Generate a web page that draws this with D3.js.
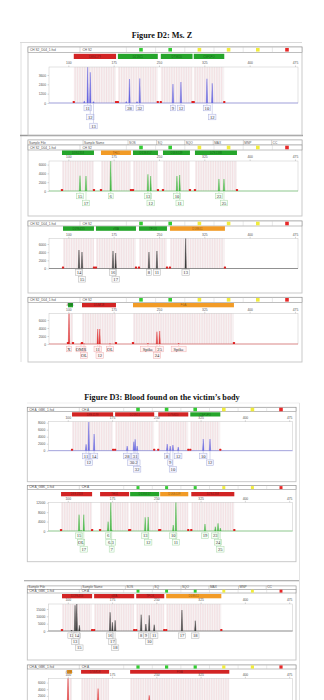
<!DOCTYPE html>
<html><head><meta charset="utf-8">
<script src="https://cdn.jsdelivr.net/npm/d3@7"></script>
<style>body{margin:0;background:#fff}svg{display:block}</style>
</head><body>
<svg id="c" width="324" height="700"></svg>
<script>
// ---------- shared ----------
const sizeTicks = [100, 175, 250, 325, 400, 475];
const sampleHeads = ["Sample File", "Sample Name", "SOS", "SQ", "SQO", "MAX", "MNP", "CC"];

// ---------- Figure D2: Ms. Z ----------
const d2Flags = ["pass", "pass", "check", "check", "check", "fail"];

const d2BlueLoci = [
  {name: "D8S1179", start: 109, end: 179, status: "fail"},
  {name: "D21S11", start: 182, end: 248, status: "pass"},
  {name: "D7S820", start: 253, end: 305.5, status: "pass"},
  {name: "CSF1PO", start: 307.5, end: 358, status: "pass"}
];
const d2BluePeaks = [
  {allele: null, size: 126.4, rfu: 260},
  {allele: "11", size: 132.0, rfu: 4600, row: 1},
  {allele: "12", size: 136.3, rfu: 3950, row: 2},
  {allele: "13", size: 141.6, rfu: 180, row: 3},
  {allele: null, size: 195.9, rfu: 200},
  {allele: "28", size: 201.2, rfu: 3085, row: 1},
  {allele: null, size: 213.6, rfu: 180},
  {allele: "32", size: 218.2, rfu: 3150, row: 1},
  {allele: "9", size: 273.1, rfu: 2440, row: 1},
  {allele: "12", size: 286.3, rfu: 2700, row: 1},
  {allele: "10", size: 329.3, rfu: 3120, row: 1},
  {allele: "12", size: 338.1, rfu: 2530, row: 2}
];
const d2BlueTicks = [0, 1200, 2400, 3600];

const d2GreenLoci = [
  {name: "D3S1358", start: 89.5, end: 142.4, status: "pass"},
  {name: "TH01", start: 154, end: 203.6, status: "check"},
  {name: "D13S317", start: 207, end: 248.3, status: "pass"},
  {name: "D16S539", start: 256.6, end: 301.2, status: "pass"},
  {name: "D2S1338", start: 309.5, end: 379, status: "pass"}
];
const d2GreenPeaks = [
  {allele: "15", size: 119.3, rfu: 3480, row: 1},
  {allele: "17", size: 129.2, rfu: 3410, row: 2},
  {allele: "6", size: 170.1, rfu: 6800, row: 1},
  {allele: "13", size: 231.7, rfu: 3800, row: 1},
  {allele: "12", size: 236.2, rfu: 3410, row: 2},
  {allele: "10", size: 279.7, rfu: 3410, row: 1},
  {allele: "11", size: 284.2, rfu: 3640, row: 2},
  {allele: "23", size: 349.2, rfu: 2730, row: 1},
  {allele: "25", size: 357.5, rfu: 2730, row: 2}
];
const d2GreenTicks = [0, 2000, 4000, 6000];

const d2BlackLoci = [
  {name: "D19S433", start: 91.2, end: 142.4, status: "pass"},
  {name: "vWA", start: 145.7, end: 211.9, status: "pass"},
  {name: "TPOX", start: 216.9, end: 263.2, status: "pass"},
  {name: "D18S51", start: 268.1, end: 359.1, status: "check"}
];
const d2BlackPeaks = [
  {allele: "14", size: 117.6, rfu: 4530, row: 1},
  {allele: "15", size: 122.6, rfu: 4040, row: 2},
  {allele: "16", size: 173.9, rfu: 4290, row: 1},
  {allele: "17", size: 178.3, rfu: 3800, row: 2},
  {allele: "8", size: 233.4, rfu: 4040, row: 1},
  {allele: "11", size: 246.6, rfu: 4290, row: 1},
  {allele: "13", size: 294.1, rfu: 7400, row: 1}
];
const d2BlackTicks = [0, 2000, 4000, 6000];

const d2RedLoci = [
  {name: "AMEL", start: 99.4, end: 107.7, status: "pass"},
  {name: "D5S818", start: 122.6, end: 178.8, status: "fail"},
  {name: "FGA", start: 207, end: 374, status: "check"}
];
const d2RedPeaks = [
  {allele: "X", size: 101.1, rfu: 7600, row: 1},
  {allele: "OMR", size: 120.9, rfu: 150, row: 1},
  {allele: "OL", size: 125.9, rfu: 120, row: 2},
  {allele: "11", size: 148.6, rfu: 3750, row: 1},
  {allele: "12", size: 151.9, rfu: 3750, row: 2},
  {allele: "OL", size: 168.9, rfu: 130, row: 1},
  {allele: "Spike", size: 231.7, rfu: 220, row: 1},
  {allele: "24", size: 246.6, rfu: 3075, row: 2},
  {allele: "25", size: 251.1, rfu: 3250, row: 1},
  {allele: "Spike", size: 282.5, rfu: 220, row: 1}
];
const d2RedTicks = [0, 2000, 4000, 6000];

// ---------- Figure D3: Blood found on the victim's body ----------
const d3Flags = ["pass", "pass", "pass", "check", "check", "fail"];

const d3BlueLoci = [
  {name: "D8S1179", start: 107.2, end: 176.8, status: "fail"},
  {name: "D21S11", start: 180.2, end: 246.4, status: "fail"},
  {name: "D7S820", start: 253.2, end: 304.1, status: "fail"},
  {name: "CSF1PO", start: 307.5, end: 358.4, status: "pass"}
];
const d3BluePeaks = [
  {allele: "11", size: 131.0, rfu: 1830, row: 1},
  {allele: "12", size: 135.6, rfu: 8200, row: 2},
  {allele: "14", size: 144.6, rfu: 4770, row: 1},
  {allele: "28", size: 200.6, rfu: 1340, row: 1},
  {allele: "30.2", size: 211.9, rfu: 2570, row: 2},
  {allele: "31", size: 214.1, rfu: 3260, row: 1},
  {allele: "32", size: 217.5, rfu: 1340, row: 3},
  {allele: "8", size: 268.4, rfu: 1910, row: 1},
  {allele: "9", size: 273.5, rfu: 1340, row: 2},
  {allele: "10", size: 278.1, rfu: 1630, row: 3},
  {allele: "12", size: 287.1, rfu: 1060, row: 1},
  {allele: "10", size: 329.5, rfu: 3340, row: 1},
  {allele: "12", size: 340.9, rfu: 3340, row: 2}
];
const d3BlueTicks = [0, 2000, 4000, 6000, 8000];

const d3GreenLoci = [
  {name: "D3S1358", start: 88.6, end: 141.2, status: "fail"},
  {name: "TH01", start: 154.7, end: 203.9, status: "fail"},
  {name: "D13S317", start: 205.6, end: 254.8, status: "pass"},
  {name: "D16S539", start: 256.5, end: 304.1, status: "check"},
  {name: "D2S1338", start: 309.2, end: 382.1, status: "fail"}
];
const d3GreenPeaks = [
  {allele: "15", size: 119.1, rfu: 6940, row: 1},
  {allele: "OL", size: 122.5, rfu: 300, row: 2},
  {allele: "17", size: 127.1, rfu: 6940, row: 3},
  {allele: "6", size: 168.3, rfu: 3960, row: 1},
  {allele: "6.3", size: 172.9, rfu: 12200, row: 2},
  {allele: "7", size: 174.3, rfu: 500, row: 3},
  {allele: "13", size: 231.1, rfu: 5830, row: 1},
  {allele: "12", size: 236.2, rfu: 5960, row: 2},
  {allele: "10", size: 278.6, rfu: 2550, row: 1},
  {allele: "11", size: 283.2, rfu: 12200, row: 2},
  {allele: "19", size: 332.4, rfu: 2980, row: 1},
  {allele: "23", size: 349.9, rfu: 1830, row: 1},
  {allele: "24", size: 354.5, rfu: 3280, row: 2},
  {allele: "25", size: 358.4, rfu: 1280, row: 3}
];
const d3GreenTicks = [0, 4000, 8000, 12000];

const d3BlackLoci = [
  {name: "D19S433", start: 90.2, end: 141.2, status: "fail"},
  {name: "vWA", start: 144.6, end: 212.5, status: "fail"},
  {name: "TPOX", start: 215.9, end: 263.4, status: "fail"},
  {name: "D18S51", start: 266.7, end: 360.1, status: "check"}
];
const d3BlackPeaks = [
  {allele: "12", size: 106.4, rfu: 700, row: 1},
  {allele: "13", size: 112.3, rfu: 17500, row: 2},
  {allele: "14", size: 115.2, rfu: 18400, row: 1},
  {allele: "15", size: 119.6, rfu: 3890, row: 3},
  {allele: "16", size: 171.7, rfu: 12750, row: 1},
  {allele: "17", size: 175.6, rfu: 5930, row: 2},
  {allele: "18", size: 180.2, rfu: 7290, row: 3},
  {allele: "8", size: 224.3, rfu: 11100, row: 1},
  {allele: "9", size: 232.3, rfu: 4770, row: 1},
  {allele: "10", size: 237.9, rfu: 10700, row: 2},
  {allele: "11", size: 246.4, rfu: 4300, row: 1},
  {allele: "17", size: 293.4, rfu: 14300, row: 1},
  {allele: "18", size: 316.0, rfu: 7020, row: 1}
];
const d3BlackTicks = [0, 5000, 10000, 15000];

const d3RedLoci = [
  {name: "AMEL", start: 98.7, end: 107.2, status: "check"},
  {name: "D5S818", start: 122.5, end: 170, status: "fail"},
  {name: "FGA", start: 205.6, end: 373.6, status: "fail"}
];
const d3RedPeaks = [
  {allele: null, size: 100.4, rfu: 7300},
  {allele: null, size: 151.3, rfu: 4200},
  {allele: null, size: 237.9, rfu: 2150}
];
// the zero line of this panel falls below the page edge
const d3RedTicks = [2000, 4000, 6000];

// ---------- drawing ----------
const STATUS = {pass: "#25a52b", check: "#f29b26", fail: "#d22424"};
const FLAG = {pass: "#33cc33", check: "#f0ec3c", fail: "#e82828"};
const DYE = {
  blue:  {line: "#6464e0", box: "#aab0dc", fill: "#f6f6ff"},
  green: {line: "#42b842", box: "#a8d8a8", fill: "#f7fff7"},
  black: {line: "#3a3a3a", box: "#b4b4b4", fill: "#fafafa"},
  red:   {line: "#e03434", box: "#f0b0b0", fill: "#fff4f4"}
};

const svg = d3.select("#c");

// panel layouts: box, rows, plot area
const panels = [
  {dye: "blue", loci: d2BlueLoci, peaks: d2BluePeaks, yTicks: d2BlueTicks, yMax: 4630, flags: d2Flags,
   file: "CH S2_D04_1.fsd", chan: "CH S2",
   box: [28, 47, 302, 135], chanRow: [47, 52.5], barRow: [53.8, 59], plot: [49, 67, 298, 103],
   xDomain: [68, 480], rows: [108, 117, 126], flagX: [141, 29.2]},
  {dye: "green", loci: d2GreenLoci, peaks: d2GreenPeaks, yTicks: d2GreenTicks, yMax: 6820, flags: d2Flags,
   file: "CH S2_D04_1.fsd", chan: "CH S2", sample: [140, 145],
   box: [28, 140, 302, 216], chanRow: [145, 150], barRow: [150.5, 155], plot: [49, 161, 298, 191],
   xDomain: [68, 480], rows: [196, 203, 210], flagX: [141, 29.2]},
  {dye: "black", loci: d2BlackLoci, peaks: d2BlackPeaks, yTicks: d2BlackTicks, yMax: 7400, flags: d2Flags,
   file: "CH S2_D04_1.fsd", chan: "CH S2",
   box: [28, 221, 302, 293], chanRow: [221, 226], barRow: [226.3, 230.8], plot: [49, 238.3, 298, 268.5],
   xDomain: [68, 480], rows: [272.5, 279.3, 286], flagX: [141, 29.2]},
  {dye: "red", loci: d2RedLoci, peaks: d2RedPeaks, yTicks: d2RedTicks, yMax: 7680, flags: d2Flags,
   file: "CH S2_D04_1.fsd", chan: "CH S2",
   box: [28, 297.3, 302, 362], chanRow: [297.3, 302.3], barRow: [303, 307.3], plot: [49, 313.3, 298, 344],
   xDomain: [68, 480], rows: [349, 355.5, 362], flagX: [141, 29.2]},
  {dye: "blue", loci: d3BlueLoci, peaks: d3BluePeaks, yTicks: d3BlueTicks, yMax: 8290, flags: d3Flags,
   file: "CH A_GBK_1.fsd", chan: "CH A",
   box: [27.3, 407.3, 296, 481.7], chanRow: [407.3, 411.7], barRow: [412.3, 416.5], plot: [48.3, 421.7, 292.7, 450.7],
   xDomain: [67, 481], rows: [456, 462.7, 469.3], flagX: [138, 28.6]},
  {dye: "green", loci: d3GreenLoci, peaks: d3GreenPeaks, yTicks: d3GreenTicks, yMax: 12200, flags: d3Flags,
   file: "CH A_GBK_1.fsd", chan: "CH A",
   box: [27.3, 485.7, 296, 561.7], chanRow: [485.7, 489.5], barRow: [492, 496.3], plot: [48.3, 502.3, 292.7, 531],
   xDomain: [67, 481], rows: [535.7, 542.3, 549.3], flagX: [138, 28.6]},
  {dye: "black", loci: d3BlackLoci, peaks: d3BlackPeaks, yTicks: d3BlackTicks, yMax: 18400, flags: d3Flags,
   file: "CH A_GBK_1.fsd", chan: "CH A", sample: [586, 589.3],
   box: [27.3, 586, 296, 660], chanRow: [589.3, 593], barRow: [594, 598.3], plot: [48.3, 604, 292.7, 631],
   xDomain: [67, 481], rows: [635.7, 641.7, 647.7], flagX: [138, 28.6]},
  {dye: "red", loci: d3RedLoci, peaks: d3RedPeaks, yTicks: d3RedTicks, yMax: 7300, flags: d3Flags,
   file: "CH A_GBK_1.fsd", chan: "CH A",
   box: [27.3, 665, 296, 760], chanRow: [665, 669], barRow: [670, 673.7], plot: [48.3, 678.3, 292.7, 702.5],
   xDomain: [67, 481], rows: [709, 716, 723], flagX: [138, 28.6]}
];

// page furniture: titles and section frames
svg.append("text").attr("x", 162).attr("y", 38).attr("text-anchor", "middle")
  .attr("font-family", "Liberation Serif, serif").attr("font-weight", "bold").attr("font-size", 8.2)
  .attr("fill", "#111").text("Figure D2: Ms. Z");
svg.append("text").attr("x", 162).attr("y", 399.5).attr("text-anchor", "middle")
  .attr("font-family", "Liberation Serif, serif").attr("font-weight", "bold").attr("font-size", 8.2)
  .attr("fill", "#111").text("Figure D3: Blood found on the victim\u2019s body");

const frame = svg.append("g").attr("fill", "none");
frame.append("line").attr("x1", 20).attr("x2", 302).attr("y1", 42.5).attr("y2", 42.5).attr("stroke", "#d0d0d0").attr("stroke-width", 0.8);
frame.append("line").attr("x1", 21).attr("x2", 21).attr("y1", 42.5).attr("y2", 362).attr("stroke", "#d8d8d8").attr("stroke-width", 0.8);
frame.append("line").attr("x1", 299.5).attr("x2", 299.5).attr("y1", 403).attr("y2", 700).attr("stroke", "#dcdcdc").attr("stroke-width", 0.8);
frame.append("line").attr("x1", 27).attr("x2", 299.5).attr("y1", 403).attr("y2", 403).attr("stroke", "#e4e4e4").attr("stroke-width", 0.6);

function drawPanel(p) {
  const dye = DYE[p.dye];
  const g = svg.append("g");
  const [bx0, by0, bx1, by1] = p.box;
  const [px0, py0, px1, py1] = p.plot;
  const x = d3.scaleLinear().domain(p.xDomain).range([px0, px1]);
  const y = d3.scaleLinear().domain([0, p.yMax]).range([py1, py0]);

  g.append("rect").attr("x", bx0).attr("y", by0).attr("width", bx1 - bx0).attr("height", by1 - by0)
    .attr("fill", "#fff").attr("stroke", "#c4c4c4").attr("stroke-width", 0.9);

  // sample information row
  if (p.sample) {
    const fr = [0, .201, .365, .469, .572, .676, .786, .889, 1];
    const w = bx1 - bx0;
    const sr = g.append("g");
    sr.append("rect").attr("x", bx0).attr("y", p.sample[0]).attr("width", w).attr("height", p.sample[1] - p.sample[0])
      .attr("fill", "#fff").attr("stroke", "#9a9a9a").attr("stroke-width", 0.5);
    sampleHeads.forEach((h, i) => {
      const cx = bx0 + fr[i] * w;
      if (i > 0) sr.append("line").attr("x1", cx).attr("x2", cx).attr("y1", p.sample[0]).attr("y2", p.sample[1])
        .attr("stroke", "#9a9a9a").attr("stroke-width", 0.4);
      sr.append("text").attr("x", cx + 1).attr("y", p.sample[1] - 1.1).attr("font-size", 3.2)
        .attr("font-family", "Liberation Sans, sans-serif").attr("fill", "#555").text(h);
    });
  }

  // channel row with quality flags
  const cr = g.append("g");
  cr.append("rect").attr("x", bx0).attr("y", p.chanRow[0]).attr("width", bx1 - bx0).attr("height", p.chanRow[1] - p.chanRow[0])
    .attr("fill", "#fff").attr("stroke", "#8a8a8a").attr("stroke-width", 0.55);
  cr.append("text").attr("x", bx0 + 2).attr("y", p.chanRow[1] - 1.1).attr("font-size", 3.2)
    .attr("font-family", "Liberation Sans, sans-serif").attr("fill", "#555").text(p.file);
  cr.append("line").attr("x1", bx0 + 52).attr("x2", bx0 + 52).attr("y1", p.chanRow[0]).attr("y2", p.chanRow[1])
    .attr("stroke", "#aaa").attr("stroke-width", 0.4);
  cr.append("text").attr("x", bx0 + 54.5).attr("y", p.chanRow[1] - 1.1).attr("font-size", 3.2)
    .attr("font-family", "Liberation Sans, sans-serif").attr("fill", "#555").text(p.chan);
  const [f0, fs] = p.flagX;
  const ch = p.chanRow[1] - p.chanRow[0];
  p.flags.forEach((f, i) => {
    const fx = f0 + i * fs;
    cr.append("line").attr("x1", fx - fs / 2).attr("x2", fx - fs / 2).attr("y1", p.chanRow[0]).attr("y2", p.chanRow[1])
      .attr("stroke", "#c8c8c8").attr("stroke-width", 0.4);
    const s = Math.min(3.6, ch - 0.8);
    cr.append("rect").attr("x", fx - s / 2).attr("y", p.chanRow[0] + (ch - s) / 2).attr("width", s).attr("height", s)
      .attr("fill", FLAG[f]);
  });

  // locus bars
  const lb = g.append("g");
  p.loci.forEach(l => {
    lb.append("rect").attr("x", x(l.start)).attr("y", p.barRow[0]).attr("width", x(l.end) - x(l.start))
      .attr("height", p.barRow[1] - p.barRow[0]).attr("fill", STATUS[l.status]);
    lb.append("text").attr("x", (x(l.start) + x(l.end)) / 2).attr("y", p.barRow[1] - 1)
      .attr("text-anchor", "middle").attr("font-size", 2.9).attr("font-family", "Liberation Sans, sans-serif")
      .attr("fill", "rgba(0,0,0,0.45)").text(l.name);
  });

  // bins for each locus
  const bins = g.append("g");
  p.loci.forEach(l => {
    bins.append("rect").attr("x", x(l.start)).attr("y", py0).attr("width", x(l.end) - x(l.start)).attr("height", py1 - py0)
      .attr("fill", "#f8f2f3");
    d3.range(l.start + 2, l.end - 1, 4).forEach(b => {
      bins.append("rect").attr("x", x(b)).attr("y", py0).attr("width", x(b + 1.4) - x(b)).attr("height", py1 - py0)
        .attr("fill", "#e8e8e8").attr("opacity", 0.6);
      bins.append("line").attr("x1", x(b)).attr("x2", x(b)).attr("y1", py0).attr("y2", py1)
        .attr("stroke", "#f5c9cf").attr("stroke-width", 0.35);
    });
  });

  // plot border
  g.append("rect").attr("x", px0).attr("y", py0).attr("width", px1 - px0).attr("height", py1 - py0)
    .attr("fill", "none").attr("stroke", "#c6c6c6").attr("stroke-width", 0.5);

  // axes
  const ax = g.append("g").attr("transform", `translate(0,${py0})`)
    .call(d3.axisTop(x).tickValues(sizeTicks).tickSize(1.5).tickPadding(1.2).tickFormat(d3.format("d")));
  const ay = g.append("g").attr("transform", `translate(${px0},0)`)
    .call(d3.axisLeft(y).tickValues(p.yTicks).tickSize(1.5).tickPadding(1.5).tickFormat(d3.format("d")));
  [ax, ay].forEach(a => {
    a.select(".domain").remove();
    a.selectAll("line").attr("stroke", "#999").attr("stroke-width", 0.4);
    a.selectAll("text").attr("font-size", 3.3).attr("font-family", "Liberation Sans, sans-serif").attr("fill", "#555");
  });

  // baseline trace
  g.append("line").attr("x1", px0).attr("x2", px1).attr("y1", y(0)).attr("y2", y(0))
    .attr("stroke", dye.line).attr("stroke-width", 0.6).attr("opacity", 0.8);

  // peaks, clipped to the plot area
  const cid = "clip" + Math.round(py0);
  g.append("clipPath").attr("id", cid).append("rect").attr("x", px0).attr("y", py0)
    .attr("width", px1 - px0).attr("height", py1 - py0 + 1);
  const line = d3.line().x(d => x(d[0])).y(d => y(d[1]));
  g.append("g").attr("clip-path", `url(#${cid})`).selectAll("path").data(p.peaks).join("path")
    .attr("d", d => line([[d.size - 1.2, 0], [d.size - 0.4, d.rfu * 0.7], [d.size, d.rfu],
                          [d.size + 0.4, d.rfu * 0.7], [d.size + 1.2, 0]]))
    .attr("fill", dye.line).attr("stroke", dye.line).attr("stroke-width", 0.4);

  // locus edge markers on the baseline
  const edges = p.loci.flatMap(l => [l.start, l.end]);
  g.append("g").selectAll("rect").data(edges).join("rect")
    .attr("x", d => x(d) - 1.1).attr("y", y(0) - 2).attr("width", 2.2).attr("height", 2).attr("rx", 0.6)
    .attr("fill", "#e02020");

  // allele call labels
  const lab = g.append("g");
  p.peaks.filter(d => d.allele).forEach(d => {
    const ly = p.rows[d.row - 1];
    const w = 2.4 + 2.5 * d.allele.length;
    const h = 5.6;
    const cx = x(d.size);
    lab.append("line").attr("x1", cx).attr("x2", cx).attr("y1", y(0)).attr("y2", ly - h / 2)
      .attr("stroke", dye.box).attr("stroke-width", 0.5);
    lab.append("rect").attr("x", cx - w / 2).attr("y", ly - h / 2).attr("width", w).attr("height", h)
      .attr("fill", dye.fill).attr("stroke", dye.box).attr("stroke-width", 0.5);
    lab.append("text").attr("x", cx).attr("y", ly + 1.6).attr("text-anchor", "middle")
      .attr("font-size", 4.6).attr("font-family", "Liberation Serif, serif").attr("fill", "#333").text(d.allele);
  });
}

panels.forEach(drawPanel);

// section separators
frame.append("line").attr("x1", 20).attr("x2", 303).attr("y1", 135.5).attr("y2", 135.5).attr("stroke", "#9a9a9a").attr("stroke-width", 1.3);
frame.append("line").attr("x1", 24).attr("x2", 299).attr("y1", 580.7).attr("y2", 580.7).attr("stroke", "#9a9a9a").attr("stroke-width", 1.1);
</script>
</body></html>
